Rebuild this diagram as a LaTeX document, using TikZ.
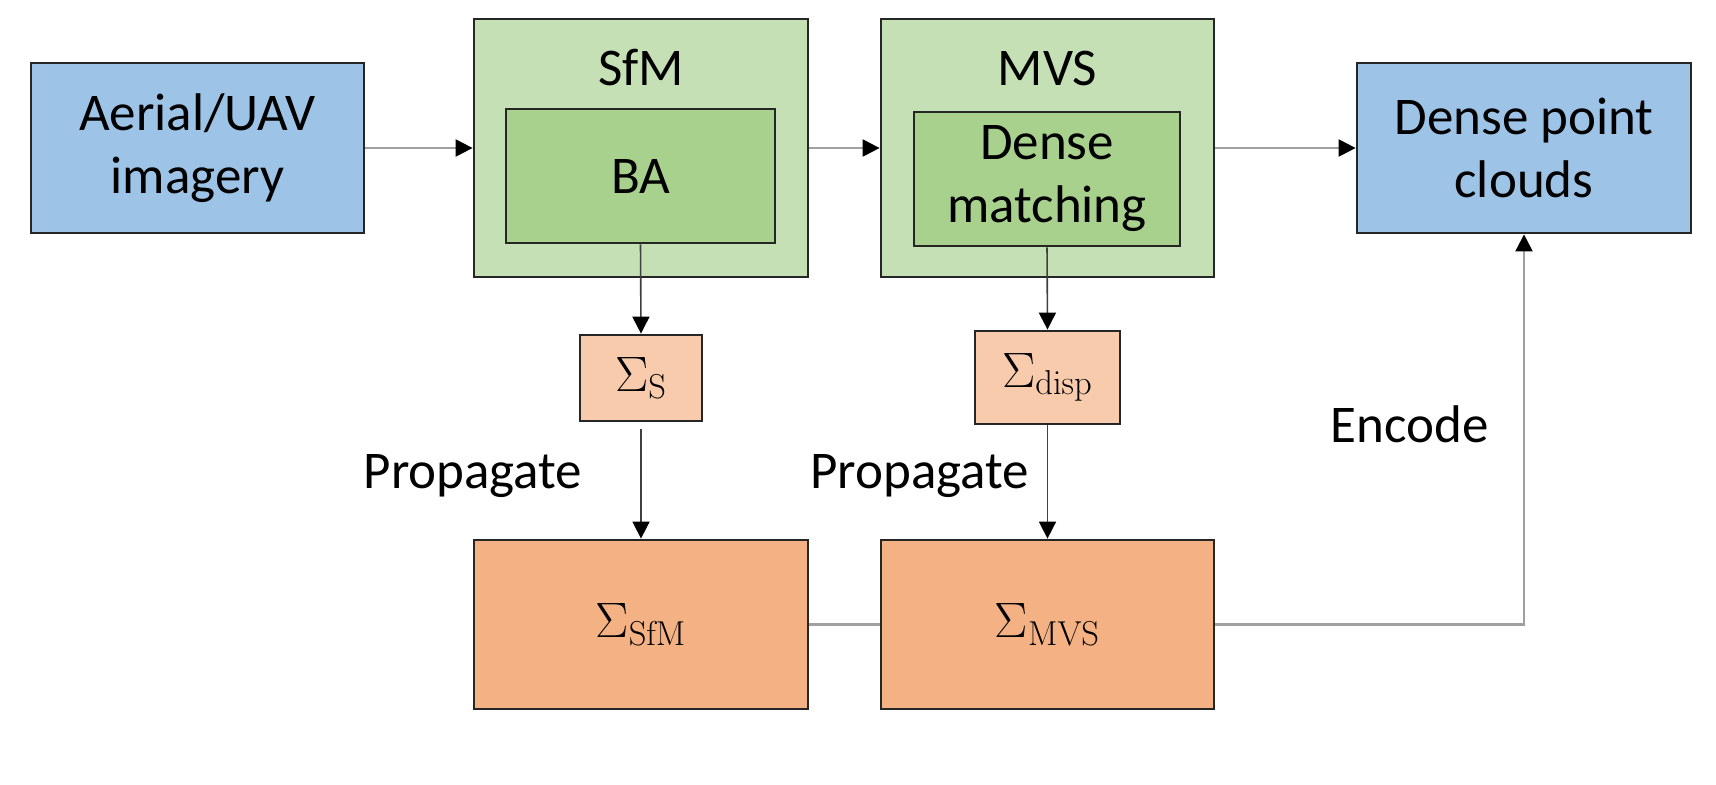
\documentclass[tikz,border=0pt]{standalone}
\usepackage[no-math]{fontspec}
\setmainfont{Carlito}
\usetikzlibrary{arrows.meta}
\definecolor{blueF}{HTML}{9DC3E6}
\definecolor{greenL}{HTML}{C5E0B4}
\definecolor{greenD}{HTML}{A9D18E}
\definecolor{orangeL}{HTML}{F8CBAD}
\definecolor{orangeD}{HTML}{F4B183}
\definecolor{conn}{HTML}{A0A0A0}
\begin{document}
\begin{tikzpicture}[x=0.5pt,y=-0.5pt,
  box/.style={draw=black!85,line width=1.4pt,inner sep=0pt,align=center,
    font=\fontsize{26.5pt}{31.5pt}\selectfont},
  sig/.style={box,font=\fontsize{26pt}{31pt}\selectfont},
  lbl/.style={inner sep=0pt,font=\fontsize{26.5pt}{31.5pt}\selectfont},
  harrow/.style={draw=conn,line width=1.1pt,-{Triangle[length=8.5pt,width=8.5pt,color=black]}},
  varrow/.style={draw=black!75,line width=0.8pt,-{Triangle[length=8.5pt,width=8.5pt,color=black]}},
  gline/.style={draw=conn,line width=1.1pt}]
\fill[white] (0,0) rectangle (1716,784);
\useasboundingbox (0,0) rectangle (1716,784);
% nodes
\node[box,fill=blueF,minimum width=166.5pt,minimum height=85pt] (aerial) at (197.5,148) {Aerial/UAV\\imagery};
\node[box,fill=greenL,minimum width=167pt,minimum height=129pt] (sfm) at (641,148) {};
\node[lbl] (sfmt) at (641,68) {SfM};
\node[box,fill=greenD,minimum width=134.5pt,minimum height=67pt] (ba) at (640.5,176) {BA};
\node[box,fill=greenL,minimum width=166.5pt,minimum height=129pt] (mvs) at (1047.5,148) {};
\node[lbl] (mvst) at (1047.5,68) {MVS};
\node[box,fill=greenD,minimum width=133pt,minimum height=67pt] (dm) at (1047,179) {Dense\\matching};
\node[box,fill=blueF,minimum width=167pt,minimum height=85pt] (dense) at (1524,148) {Dense point\\clouds};
\node[sig,fill=orangeL,minimum width=61pt,minimum height=43pt] (sigS) at (641,378) {$\Sigma_{\mathrm{S}}$};
\node[sig,fill=orangeL,minimum width=72.5pt,minimum height=46.5pt] (sigD) at (1047.5,377.5) {$\Sigma_{\mathrm{disp}}$};
\node[sig,fill=orangeD,minimum width=167pt,minimum height=84.5pt] (sigSfM) at (641,624.5) {$\Sigma_{\mathrm{SfM}}$};
\node[sig,fill=orangeD,minimum width=166.5pt,minimum height=84.5pt] (sigMVS) at (1047.5,624.5) {$\Sigma_{\mathrm{MVS}}$};
\node[lbl] (prop1) at (473,476) {Propagate};
\node[lbl] (prop2) at (919.5,476) {Propagate};
\node[lbl] (enc) at (1409.5,424) {Encode};
% connectors
\draw[harrow] (aerial.east) -- (sfm.west);
\draw[harrow] (sfm.east) -- (mvs.west);
\draw[harrow] (mvs.east) -- (dense.west);
\draw[varrow] (ba.south) -- (sigS.north);
\draw[varrow] (dm.south) -- (sigD.north);
\draw[varrow,shorten <=3.5pt] (sigS.south) -- (sigSfM.north);
\draw[varrow] (sigD.south) -- (sigMVS.north);
\draw[gline] (sigSfM.east) -- (sigMVS.west);
\coordinate (corner) at (dense.south |- sigMVS.east);
\draw[harrow] (sigMVS.east) -- (corner) -- (dense.south);
\end{tikzpicture}
\end{document}
